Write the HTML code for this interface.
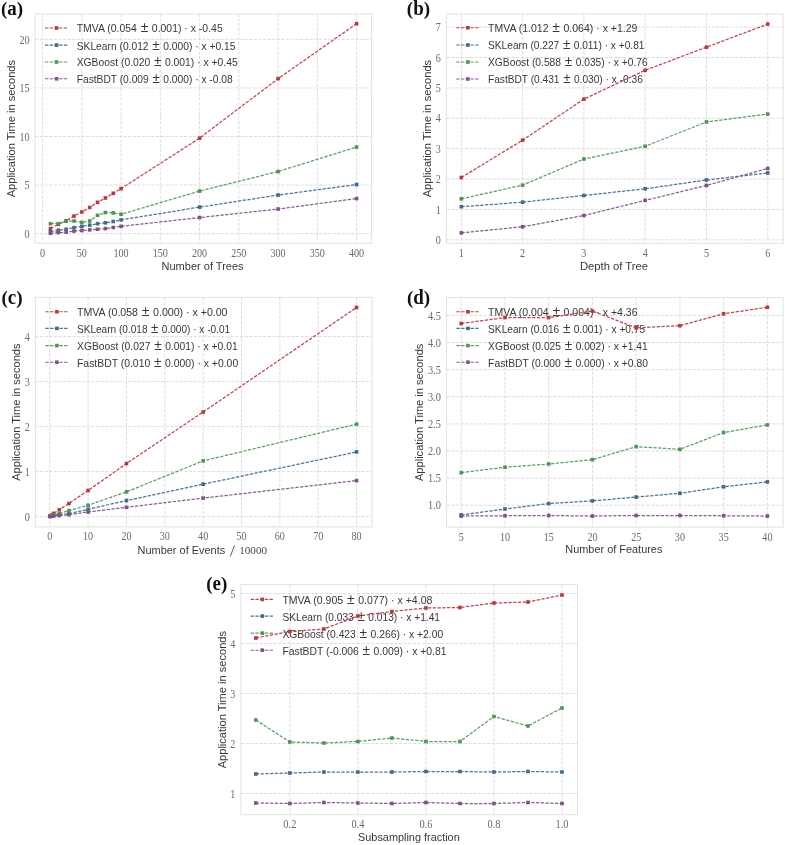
<!DOCTYPE html><html><head><meta charset="utf-8"><style>html,body{margin:0;padding:0;background:#fff;}svg{display:block;filter:blur(0.45px);}.tk{font-family:"Liberation Serif",serif;font-size:11.6px;fill:#6a6a6a;}.lg{font-family:"Liberation Sans",sans-serif;font-size:10.6px;fill:#383838;}.al{font-family:"Liberation Sans",sans-serif;font-size:11px;fill:#383838;}.pl{font-family:"Liberation Serif",serif;font-size:19px;font-weight:bold;fill:#111;}</style></head><body>
<svg width="785" height="845" viewBox="0 0 785 845">
<rect width="785" height="845" fill="#fff"/>
<g stroke="#d9d9d9" stroke-width="0.9" stroke-dasharray="3.2 1.45" fill="none"><line x1="42.6" y1="14" x2="42.6" y2="243.3"/><line x1="81.85" y1="14" x2="81.85" y2="243.3"/><line x1="121.1" y1="14" x2="121.1" y2="243.3"/><line x1="160.35" y1="14" x2="160.35" y2="243.3"/><line x1="199.6" y1="14" x2="199.6" y2="243.3"/><line x1="238.85" y1="14" x2="238.85" y2="243.3"/><line x1="278.1" y1="14" x2="278.1" y2="243.3"/><line x1="317.35" y1="14" x2="317.35" y2="243.3"/><line x1="356.6" y1="14" x2="356.6" y2="243.3"/><line x1="35.1" y1="233.6" x2="371.6" y2="233.6"/><line x1="35.1" y1="185.05" x2="371.6" y2="185.05"/><line x1="35.1" y1="136.5" x2="371.6" y2="136.5"/><line x1="35.1" y1="87.95" x2="371.6" y2="87.95"/><line x1="35.1" y1="39.4" x2="371.6" y2="39.4"/></g>
<rect x="35.1" y="14" width="336.5" height="229.3" fill="none" stroke="#e2e2e2" stroke-width="1"/>
<g class="tk"><text x="42.6" y="256.7" text-anchor="middle" textLength="5.05" lengthAdjust="spacingAndGlyphs">0</text><text x="81.85" y="256.7" text-anchor="middle" textLength="10.1" lengthAdjust="spacingAndGlyphs">50</text><text x="121.1" y="256.7" text-anchor="middle" textLength="15.15" lengthAdjust="spacingAndGlyphs">100</text><text x="160.35" y="256.7" text-anchor="middle" textLength="15.15" lengthAdjust="spacingAndGlyphs">150</text><text x="199.6" y="256.7" text-anchor="middle" textLength="15.15" lengthAdjust="spacingAndGlyphs">200</text><text x="238.85" y="256.7" text-anchor="middle" textLength="15.15" lengthAdjust="spacingAndGlyphs">250</text><text x="278.1" y="256.7" text-anchor="middle" textLength="15.15" lengthAdjust="spacingAndGlyphs">300</text><text x="317.35" y="256.7" text-anchor="middle" textLength="15.15" lengthAdjust="spacingAndGlyphs">350</text><text x="356.6" y="256.7" text-anchor="middle" textLength="15.15" lengthAdjust="spacingAndGlyphs">400</text><text x="29.5" y="237.7" text-anchor="end" textLength="5.05" lengthAdjust="spacingAndGlyphs">0</text><text x="29.5" y="189.15" text-anchor="end" textLength="5.05" lengthAdjust="spacingAndGlyphs">5</text><text x="29.5" y="140.6" text-anchor="end" textLength="10.1" lengthAdjust="spacingAndGlyphs">10</text><text x="29.5" y="92.05" text-anchor="end" textLength="10.1" lengthAdjust="spacingAndGlyphs">15</text><text x="29.5" y="43.5" text-anchor="end" textLength="10.1" lengthAdjust="spacingAndGlyphs">20</text></g>
<text class="al" x="202.55" y="269.6" text-anchor="middle" textLength="82.1" lengthAdjust="spacingAndGlyphs">Number of Trees</text>
<text class="al" x="0" y="0" text-anchor="middle" textLength="137.4" lengthAdjust="spacingAndGlyphs" transform="translate(14.8,128.65) rotate(-90)">Application Time in seconds</text>
<line x1="45" y1="28" x2="67.2" y2="28" stroke="#c0454b" stroke-width="1.1" stroke-dasharray="3.4 1.3"/>
<rect x="54.8" y="26.2" width="3.6" height="3.6" fill="#b8383f"/>
<text class="lg" x="76.7" y="32.4" textLength="146" lengthAdjust="spacingAndGlyphs">TMVA (0.054<tspan dx="3.8" style="font-size:14px">±</tspan><tspan dx="3.6">0.001) · x -0.45</tspan></text>
<line x1="45" y1="45.1" x2="67.2" y2="45.1" stroke="#4a7399" stroke-width="1.1" stroke-dasharray="3.4 1.3"/>
<rect x="54.8" y="43.3" width="3.6" height="3.6" fill="#41698f"/>
<text class="lg" x="76.7" y="49.5" textLength="158.7" lengthAdjust="spacingAndGlyphs">SKLearn (0.012<tspan dx="3.8" style="font-size:14px">±</tspan><tspan dx="3.6">0.000) · x +0.15</tspan></text>
<line x1="45" y1="62" x2="67.2" y2="62" stroke="#58a060" stroke-width="1.1" stroke-dasharray="3.4 1.3"/>
<rect x="54.8" y="60.2" width="3.6" height="3.6" fill="#4f9456"/>
<text class="lg" x="76.7" y="66.4" textLength="161" lengthAdjust="spacingAndGlyphs">XGBoost (0.020<tspan dx="3.8" style="font-size:14px">±</tspan><tspan dx="3.6">0.001) · x +0.45</tspan></text>
<line x1="45" y1="78.8" x2="67.2" y2="78.8" stroke="#8a5c92" stroke-width="1.1" stroke-dasharray="3.4 1.3"/>
<rect x="54.8" y="77" width="3.6" height="3.6" fill="#7f5287"/>
<text class="lg" x="76.7" y="83.2" textLength="156" lengthAdjust="spacingAndGlyphs">FastBDT (0.009<tspan dx="3.8" style="font-size:14px">±</tspan><tspan dx="3.6">0.000) · x -0.08</tspan></text>
<polyline points="50.45,228.55 58.3,224.38 66.15,220.88 74,216.12 81.85,211.95 89.7,207.48 97.55,202.33 105.4,197.96 113.25,193.3 121.1,188.64 199.6,138.15 278.1,78.63 356.6,23.67" fill="none" stroke="#c0454b" stroke-width="1.25" stroke-dasharray="3.3 1.45"/>
<g fill="#b8383f"><rect x="48.65" y="226.75" width="3.6" height="3.6"/><rect x="56.5" y="222.58" width="3.6" height="3.6"/><rect x="64.35" y="219.08" width="3.6" height="3.6"/><rect x="72.2" y="214.32" width="3.6" height="3.6"/><rect x="80.05" y="210.15" width="3.6" height="3.6"/><rect x="87.9" y="205.68" width="3.6" height="3.6"/><rect x="95.75" y="200.53" width="3.6" height="3.6"/><rect x="103.6" y="196.16" width="3.6" height="3.6"/><rect x="111.45" y="191.5" width="3.6" height="3.6"/><rect x="119.3" y="186.84" width="3.6" height="3.6"/><rect x="197.8" y="136.35" width="3.6" height="3.6"/><rect x="276.3" y="76.83" width="3.6" height="3.6"/><rect x="354.8" y="21.87" width="3.6" height="3.6"/></g>
<polyline points="50.45,231.66 58.3,230.2 66.15,229.23 74,227.68 81.85,226.41 89.7,225.15 97.55,223.7 105.4,222.82 113.25,221.46 121.1,219.91 199.6,207.09 278.1,195.05 356.6,184.56" fill="none" stroke="#4a7399" stroke-width="1.25" stroke-dasharray="3.3 1.45"/>
<g fill="#41698f"><rect x="48.65" y="229.86" width="3.6" height="3.6"/><rect x="56.5" y="228.4" width="3.6" height="3.6"/><rect x="64.35" y="227.43" width="3.6" height="3.6"/><rect x="72.2" y="225.88" width="3.6" height="3.6"/><rect x="80.05" y="224.61" width="3.6" height="3.6"/><rect x="87.9" y="223.35" width="3.6" height="3.6"/><rect x="95.75" y="221.9" width="3.6" height="3.6"/><rect x="103.6" y="221.02" width="3.6" height="3.6"/><rect x="111.45" y="219.66" width="3.6" height="3.6"/><rect x="119.3" y="218.11" width="3.6" height="3.6"/><rect x="197.8" y="205.29" width="3.6" height="3.6"/><rect x="276.3" y="193.25" width="3.6" height="3.6"/><rect x="354.8" y="182.76" width="3.6" height="3.6"/></g>
<polyline points="50.45,223.7 58.3,223.7 66.15,221.17 74,220.98 81.85,222.43 89.7,220.98 97.55,215.35 105.4,212.53 113.25,212.92 121.1,214.28 199.6,191.07 278.1,171.55 356.6,147.08" fill="none" stroke="#58a060" stroke-width="1.25" stroke-dasharray="3.3 1.45"/>
<g fill="#4f9456"><rect x="48.65" y="221.9" width="3.6" height="3.6"/><rect x="56.5" y="221.9" width="3.6" height="3.6"/><rect x="64.35" y="219.37" width="3.6" height="3.6"/><rect x="72.2" y="219.18" width="3.6" height="3.6"/><rect x="80.05" y="220.63" width="3.6" height="3.6"/><rect x="87.9" y="219.18" width="3.6" height="3.6"/><rect x="95.75" y="213.55" width="3.6" height="3.6"/><rect x="103.6" y="210.73" width="3.6" height="3.6"/><rect x="111.45" y="211.12" width="3.6" height="3.6"/><rect x="119.3" y="212.48" width="3.6" height="3.6"/><rect x="197.8" y="189.27" width="3.6" height="3.6"/><rect x="276.3" y="169.75" width="3.6" height="3.6"/><rect x="354.8" y="145.28" width="3.6" height="3.6"/></g>
<polyline points="50.45,233.31 58.3,232.63 66.15,232.14 74,231.08 81.85,230.49 89.7,229.81 97.55,229.23 105.4,228.55 113.25,227.48 121.1,226.32 199.6,217.58 278.1,209.03 356.6,198.55" fill="none" stroke="#8a5c92" stroke-width="1.25" stroke-dasharray="3.3 1.45"/>
<g fill="#7f5287"><rect x="48.65" y="231.51" width="3.6" height="3.6"/><rect x="56.5" y="230.83" width="3.6" height="3.6"/><rect x="64.35" y="230.34" width="3.6" height="3.6"/><rect x="72.2" y="229.28" width="3.6" height="3.6"/><rect x="80.05" y="228.69" width="3.6" height="3.6"/><rect x="87.9" y="228.01" width="3.6" height="3.6"/><rect x="95.75" y="227.43" width="3.6" height="3.6"/><rect x="103.6" y="226.75" width="3.6" height="3.6"/><rect x="111.45" y="225.68" width="3.6" height="3.6"/><rect x="119.3" y="224.52" width="3.6" height="3.6"/><rect x="197.8" y="215.78" width="3.6" height="3.6"/><rect x="276.3" y="207.23" width="3.6" height="3.6"/><rect x="354.8" y="196.75" width="3.6" height="3.6"/></g>
<text class="pl" x="1" y="15.25">(</text>
<text class="pl" transform="translate(7.33,15.25) scale(1.0,1.1)">a</text>
<text class="pl" x="16.83" y="15.25">)</text>
<g stroke="#d9d9d9" stroke-width="0.9" stroke-dasharray="3.2 1.45" fill="none"><line x1="461.33" y1="13.95" x2="461.33" y2="243.3"/><line x1="522.61" y1="13.95" x2="522.61" y2="243.3"/><line x1="583.89" y1="13.95" x2="583.89" y2="243.3"/><line x1="645.17" y1="13.95" x2="645.17" y2="243.3"/><line x1="706.45" y1="13.95" x2="706.45" y2="243.3"/><line x1="767.73" y1="13.95" x2="767.73" y2="243.3"/><line x1="446.4" y1="239.85" x2="783.1" y2="239.85"/><line x1="446.4" y1="209.46" x2="783.1" y2="209.46"/><line x1="446.4" y1="179.07" x2="783.1" y2="179.07"/><line x1="446.4" y1="148.68" x2="783.1" y2="148.68"/><line x1="446.4" y1="118.29" x2="783.1" y2="118.29"/><line x1="446.4" y1="87.9" x2="783.1" y2="87.9"/><line x1="446.4" y1="57.51" x2="783.1" y2="57.51"/><line x1="446.4" y1="27.12" x2="783.1" y2="27.12"/></g>
<rect x="446.4" y="13.95" width="336.7" height="229.35" fill="none" stroke="#e2e2e2" stroke-width="1"/>
<g class="tk"><text x="461.33" y="256.7" text-anchor="middle" textLength="5.05" lengthAdjust="spacingAndGlyphs">1</text><text x="522.61" y="256.7" text-anchor="middle" textLength="5.05" lengthAdjust="spacingAndGlyphs">2</text><text x="583.89" y="256.7" text-anchor="middle" textLength="5.05" lengthAdjust="spacingAndGlyphs">3</text><text x="645.17" y="256.7" text-anchor="middle" textLength="5.05" lengthAdjust="spacingAndGlyphs">4</text><text x="706.45" y="256.7" text-anchor="middle" textLength="5.05" lengthAdjust="spacingAndGlyphs">5</text><text x="767.73" y="256.7" text-anchor="middle" textLength="5.05" lengthAdjust="spacingAndGlyphs">6</text><text x="440.8" y="243.95" text-anchor="end" textLength="5.05" lengthAdjust="spacingAndGlyphs">0</text><text x="440.8" y="213.56" text-anchor="end" textLength="5.05" lengthAdjust="spacingAndGlyphs">1</text><text x="440.8" y="183.17" text-anchor="end" textLength="5.05" lengthAdjust="spacingAndGlyphs">2</text><text x="440.8" y="152.78" text-anchor="end" textLength="5.05" lengthAdjust="spacingAndGlyphs">3</text><text x="440.8" y="122.39" text-anchor="end" textLength="5.05" lengthAdjust="spacingAndGlyphs">4</text><text x="440.8" y="92" text-anchor="end" textLength="5.05" lengthAdjust="spacingAndGlyphs">5</text><text x="440.8" y="61.61" text-anchor="end" textLength="5.05" lengthAdjust="spacingAndGlyphs">6</text><text x="440.8" y="31.22" text-anchor="end" textLength="5.05" lengthAdjust="spacingAndGlyphs">7</text></g>
<text class="al" x="613.95" y="270.2" text-anchor="middle" textLength="68.1" lengthAdjust="spacingAndGlyphs">Depth of Tree</text>
<text class="al" x="0" y="0" text-anchor="middle" textLength="137.4" lengthAdjust="spacingAndGlyphs" transform="translate(430.7,128.62) rotate(-90)">Application Time in seconds</text>
<line x1="456.3" y1="27.8" x2="478.5" y2="27.8" stroke="#c0454b" stroke-width="1.1" stroke-dasharray="3.4 1.3"/>
<rect x="466.1" y="26" width="3.6" height="3.6" fill="#b8383f"/>
<text class="lg" x="488" y="32.2" textLength="149.4" lengthAdjust="spacingAndGlyphs">TMVA (1.012<tspan dx="3.8" style="font-size:14px">±</tspan><tspan dx="3.6">0.064) · x +1.29</tspan></text>
<line x1="456.3" y1="45" x2="478.5" y2="45" stroke="#4a7399" stroke-width="1.1" stroke-dasharray="3.4 1.3"/>
<rect x="466.1" y="43.2" width="3.6" height="3.6" fill="#41698f"/>
<text class="lg" x="488" y="49.4" textLength="156.5" lengthAdjust="spacingAndGlyphs">SKLearn (0.227<tspan dx="3.8" style="font-size:14px">±</tspan><tspan dx="3.6">0.011) · x +0.81</tspan></text>
<line x1="456.3" y1="62" x2="478.5" y2="62" stroke="#58a060" stroke-width="1.1" stroke-dasharray="3.4 1.3"/>
<rect x="466.1" y="60.2" width="3.6" height="3.6" fill="#4f9456"/>
<text class="lg" x="488" y="66.4" textLength="159.8" lengthAdjust="spacingAndGlyphs">XGBoost (0.588<tspan dx="3.8" style="font-size:14px">±</tspan><tspan dx="3.6">0.035) · x +0.76</tspan></text>
<line x1="456.3" y1="79" x2="478.5" y2="79" stroke="#8a5c92" stroke-width="1.1" stroke-dasharray="3.4 1.3"/>
<rect x="466.1" y="77.2" width="3.6" height="3.6" fill="#7f5287"/>
<text class="lg" x="488" y="83.4" textLength="154.8" lengthAdjust="spacingAndGlyphs">FastBDT (0.431<tspan dx="3.8" style="font-size:14px">±</tspan><tspan dx="3.6">0.030) · x -0.36</tspan></text>
<polyline points="461.33,177.55 522.61,140.17 583.89,99.14 645.17,70.27 706.45,47.18 767.73,24.08" fill="none" stroke="#c0454b" stroke-width="1.25" stroke-dasharray="3.3 1.45"/>
<g fill="#b8383f"><rect x="459.53" y="175.75" width="3.6" height="3.6"/><rect x="520.81" y="138.37" width="3.6" height="3.6"/><rect x="582.09" y="97.34" width="3.6" height="3.6"/><rect x="643.37" y="68.47" width="3.6" height="3.6"/><rect x="704.65" y="45.38" width="3.6" height="3.6"/><rect x="765.93" y="22.28" width="3.6" height="3.6"/></g>
<polyline points="461.33,206.72 522.61,202.17 583.89,195.48 645.17,188.79 706.45,179.98 767.73,172.99" fill="none" stroke="#4a7399" stroke-width="1.25" stroke-dasharray="3.3 1.45"/>
<g fill="#41698f"><rect x="459.53" y="204.92" width="3.6" height="3.6"/><rect x="520.81" y="200.37" width="3.6" height="3.6"/><rect x="582.09" y="193.68" width="3.6" height="3.6"/><rect x="643.37" y="186.99" width="3.6" height="3.6"/><rect x="704.65" y="178.18" width="3.6" height="3.6"/><rect x="765.93" y="171.19" width="3.6" height="3.6"/></g>
<polyline points="461.33,198.82 522.61,185.15 583.89,159.01 645.17,146.25 706.45,121.94 767.73,114.04" fill="none" stroke="#58a060" stroke-width="1.25" stroke-dasharray="3.3 1.45"/>
<g fill="#4f9456"><rect x="459.53" y="197.02" width="3.6" height="3.6"/><rect x="520.81" y="183.35" width="3.6" height="3.6"/><rect x="582.09" y="157.21" width="3.6" height="3.6"/><rect x="643.37" y="144.45" width="3.6" height="3.6"/><rect x="704.65" y="120.14" width="3.6" height="3.6"/><rect x="765.93" y="112.24" width="3.6" height="3.6"/></g>
<polyline points="461.33,232.86 522.61,226.78 583.89,215.54 645.17,200.34 706.45,185.45 767.73,168.43" fill="none" stroke="#8a5c92" stroke-width="1.25" stroke-dasharray="3.3 1.45"/>
<g fill="#7f5287"><rect x="459.53" y="231.06" width="3.6" height="3.6"/><rect x="520.81" y="224.98" width="3.6" height="3.6"/><rect x="582.09" y="213.74" width="3.6" height="3.6"/><rect x="643.37" y="198.54" width="3.6" height="3.6"/><rect x="704.65" y="183.65" width="3.6" height="3.6"/><rect x="765.93" y="166.63" width="3.6" height="3.6"/></g>
<text class="pl" x="406.8" y="15.25">(</text>
<text class="pl" transform="translate(413.13,15.25) scale(1.0,1.1)">b</text>
<text class="pl" x="423.69" y="15.25">)</text>
<g stroke="#d9d9d9" stroke-width="0.9" stroke-dasharray="3.2 1.45" fill="none"><line x1="49.72" y1="297.4" x2="49.72" y2="526.9"/><line x1="88.08" y1="297.4" x2="88.08" y2="526.9"/><line x1="126.43" y1="297.4" x2="126.43" y2="526.9"/><line x1="164.78" y1="297.4" x2="164.78" y2="526.9"/><line x1="203.14" y1="297.4" x2="203.14" y2="526.9"/><line x1="241.5" y1="297.4" x2="241.5" y2="526.9"/><line x1="279.85" y1="297.4" x2="279.85" y2="526.9"/><line x1="318.21" y1="297.4" x2="318.21" y2="526.9"/><line x1="356.56" y1="297.4" x2="356.56" y2="526.9"/><line x1="35.4" y1="516.6" x2="371.9" y2="516.6"/><line x1="35.4" y1="471.6" x2="371.9" y2="471.6"/><line x1="35.4" y1="426.6" x2="371.9" y2="426.6"/><line x1="35.4" y1="381.6" x2="371.9" y2="381.6"/><line x1="35.4" y1="336.6" x2="371.9" y2="336.6"/></g>
<rect x="35.4" y="297.4" width="336.5" height="229.5" fill="none" stroke="#e2e2e2" stroke-width="1"/>
<g class="tk"><text x="49.72" y="540.3" text-anchor="middle" textLength="5.05" lengthAdjust="spacingAndGlyphs">0</text><text x="88.08" y="540.3" text-anchor="middle" textLength="10.1" lengthAdjust="spacingAndGlyphs">10</text><text x="126.43" y="540.3" text-anchor="middle" textLength="10.1" lengthAdjust="spacingAndGlyphs">20</text><text x="164.78" y="540.3" text-anchor="middle" textLength="10.1" lengthAdjust="spacingAndGlyphs">30</text><text x="203.14" y="540.3" text-anchor="middle" textLength="10.1" lengthAdjust="spacingAndGlyphs">40</text><text x="241.5" y="540.3" text-anchor="middle" textLength="10.1" lengthAdjust="spacingAndGlyphs">50</text><text x="279.85" y="540.3" text-anchor="middle" textLength="10.1" lengthAdjust="spacingAndGlyphs">60</text><text x="318.21" y="540.3" text-anchor="middle" textLength="10.1" lengthAdjust="spacingAndGlyphs">70</text><text x="356.56" y="540.3" text-anchor="middle" textLength="10.1" lengthAdjust="spacingAndGlyphs">80</text><text x="29.8" y="520.7" text-anchor="end" textLength="5.05" lengthAdjust="spacingAndGlyphs">0</text><text x="29.8" y="475.7" text-anchor="end" textLength="5.05" lengthAdjust="spacingAndGlyphs">1</text><text x="29.8" y="430.7" text-anchor="end" textLength="5.05" lengthAdjust="spacingAndGlyphs">2</text><text x="29.8" y="385.7" text-anchor="end" textLength="5.05" lengthAdjust="spacingAndGlyphs">3</text><text x="29.8" y="340.7" text-anchor="end" textLength="5.05" lengthAdjust="spacingAndGlyphs">4</text></g>
<text class="al" x="137.6" y="553.8" textLength="87.6" lengthAdjust="spacingAndGlyphs">Number of Events</text>
<line x1="234.6" y1="545.2" x2="230.3" y2="556.4" stroke="#444" stroke-width="0.85"/>
<text class="tk" x="239.2" y="553.8" textLength="27.9" lengthAdjust="spacingAndGlyphs" style="fill:#4a4a4a;font-size:11.4px">10000</text>
<text class="al" x="0" y="0" text-anchor="middle" textLength="137.4" lengthAdjust="spacingAndGlyphs" transform="translate(20.2,412.15) rotate(-90)">Application Time in seconds</text>
<line x1="45.3" y1="311.8" x2="67.5" y2="311.8" stroke="#c0454b" stroke-width="1.1" stroke-dasharray="3.4 1.3"/>
<rect x="55.1" y="310" width="3.6" height="3.6" fill="#b8383f"/>
<text class="lg" x="77" y="316.2" textLength="150.5" lengthAdjust="spacingAndGlyphs">TMVA (0.058<tspan dx="3.8" style="font-size:14px">±</tspan><tspan dx="3.6">0.000) · x +0.00</tspan></text>
<line x1="45.3" y1="328.4" x2="67.5" y2="328.4" stroke="#4a7399" stroke-width="1.1" stroke-dasharray="3.4 1.3"/>
<rect x="55.1" y="326.6" width="3.6" height="3.6" fill="#41698f"/>
<text class="lg" x="77" y="332.8" textLength="153.1" lengthAdjust="spacingAndGlyphs">SKLearn (0.018<tspan dx="3.8" style="font-size:14px">±</tspan><tspan dx="3.6">0.000) · x -0.01</tspan></text>
<line x1="45.3" y1="345.6" x2="67.5" y2="345.6" stroke="#58a060" stroke-width="1.1" stroke-dasharray="3.4 1.3"/>
<rect x="55.1" y="343.8" width="3.6" height="3.6" fill="#4f9456"/>
<text class="lg" x="77" y="350" textLength="160.7" lengthAdjust="spacingAndGlyphs">XGBoost (0.027<tspan dx="3.8" style="font-size:14px">±</tspan><tspan dx="3.6">0.001) · x +0.01</tspan></text>
<line x1="45.3" y1="362.2" x2="67.5" y2="362.2" stroke="#8a5c92" stroke-width="1.1" stroke-dasharray="3.4 1.3"/>
<rect x="55.1" y="360.4" width="3.6" height="3.6" fill="#7f5287"/>
<text class="lg" x="77" y="366.6" textLength="161.2" lengthAdjust="spacingAndGlyphs">FastBDT (0.010<tspan dx="3.8" style="font-size:14px">±</tspan><tspan dx="3.6">0.000) · x +0.00</tspan></text>
<polyline points="50.1,516.24 51.64,515.16 53.56,513.36 59.31,509.76 68.9,503.5 88.08,490.5 126.43,463.59 203.14,412.02 356.56,307.49" fill="none" stroke="#c0454b" stroke-width="1.25" stroke-dasharray="3.3 1.45"/>
<g fill="#b8383f"><rect x="48.3" y="514.44" width="3.6" height="3.6"/><rect x="49.84" y="513.36" width="3.6" height="3.6"/><rect x="51.76" y="511.56" width="3.6" height="3.6"/><rect x="57.51" y="507.96" width="3.6" height="3.6"/><rect x="67.1" y="501.7" width="3.6" height="3.6"/><rect x="86.28" y="488.7" width="3.6" height="3.6"/><rect x="124.63" y="461.79" width="3.6" height="3.6"/><rect x="201.34" y="410.22" width="3.6" height="3.6"/><rect x="354.76" y="305.69" width="3.6" height="3.6"/></g>
<polyline points="50.1,516.28 51.64,515.97 53.56,515.61 59.31,514.71 68.9,513.81 88.08,509.31 126.43,500.58 203.14,484.2 356.56,451.94" fill="none" stroke="#4a7399" stroke-width="1.25" stroke-dasharray="3.3 1.45"/>
<g fill="#41698f"><rect x="48.3" y="514.49" width="3.6" height="3.6"/><rect x="49.84" y="514.17" width="3.6" height="3.6"/><rect x="51.76" y="513.81" width="3.6" height="3.6"/><rect x="57.51" y="512.91" width="3.6" height="3.6"/><rect x="67.1" y="512.01" width="3.6" height="3.6"/><rect x="86.28" y="507.51" width="3.6" height="3.6"/><rect x="124.63" y="498.78" width="3.6" height="3.6"/><rect x="201.34" y="482.4" width="3.6" height="3.6"/><rect x="354.76" y="450.13" width="3.6" height="3.6"/></g>
<polyline points="50.1,516.06 51.64,515.61 53.56,514.94 59.31,513.59 68.9,510.66 88.08,505.31 126.43,491.85 203.14,460.89 356.56,424.12" fill="none" stroke="#58a060" stroke-width="1.25" stroke-dasharray="3.3 1.45"/>
<g fill="#4f9456"><rect x="48.3" y="514.26" width="3.6" height="3.6"/><rect x="49.84" y="513.81" width="3.6" height="3.6"/><rect x="51.76" y="513.14" width="3.6" height="3.6"/><rect x="57.51" y="511.79" width="3.6" height="3.6"/><rect x="67.1" y="508.86" width="3.6" height="3.6"/><rect x="86.28" y="503.5" width="3.6" height="3.6"/><rect x="124.63" y="490.05" width="3.6" height="3.6"/><rect x="201.34" y="459.09" width="3.6" height="3.6"/><rect x="354.76" y="422.32" width="3.6" height="3.6"/></g>
<polyline points="50.1,516.51 51.64,516.28 53.56,515.97 59.31,515.52 68.9,514.71 88.08,512.01 126.43,507.29 203.14,498.11 356.56,480.6" fill="none" stroke="#8a5c92" stroke-width="1.25" stroke-dasharray="3.3 1.45"/>
<g fill="#7f5287"><rect x="48.3" y="514.71" width="3.6" height="3.6"/><rect x="49.84" y="514.49" width="3.6" height="3.6"/><rect x="51.76" y="514.17" width="3.6" height="3.6"/><rect x="57.51" y="513.72" width="3.6" height="3.6"/><rect x="67.1" y="512.91" width="3.6" height="3.6"/><rect x="86.28" y="510.21" width="3.6" height="3.6"/><rect x="124.63" y="505.49" width="3.6" height="3.6"/><rect x="201.34" y="496.31" width="3.6" height="3.6"/><rect x="354.76" y="478.8" width="3.6" height="3.6"/></g>
<text class="pl" x="1.5" y="304.4">(</text>
<text class="pl" transform="translate(7.83,304.4) scale(1.0,1.1)">c</text>
<text class="pl" x="16.26" y="304.4">)</text>
<g stroke="#d9d9d9" stroke-width="0.9" stroke-dasharray="3.2 1.45" fill="none"><line x1="461.23" y1="297.6" x2="461.23" y2="527.1"/><line x1="504.97" y1="297.6" x2="504.97" y2="527.1"/><line x1="548.7" y1="297.6" x2="548.7" y2="527.1"/><line x1="592.44" y1="297.6" x2="592.44" y2="527.1"/><line x1="636.18" y1="297.6" x2="636.18" y2="527.1"/><line x1="679.92" y1="297.6" x2="679.92" y2="527.1"/><line x1="723.65" y1="297.6" x2="723.65" y2="527.1"/><line x1="767.39" y1="297.6" x2="767.39" y2="527.1"/><line x1="446.5" y1="505.2" x2="783.1" y2="505.2"/><line x1="446.5" y1="478.08" x2="783.1" y2="478.08"/><line x1="446.5" y1="450.97" x2="783.1" y2="450.97"/><line x1="446.5" y1="423.86" x2="783.1" y2="423.86"/><line x1="446.5" y1="396.74" x2="783.1" y2="396.74"/><line x1="446.5" y1="369.62" x2="783.1" y2="369.62"/><line x1="446.5" y1="342.51" x2="783.1" y2="342.51"/><line x1="446.5" y1="315.39" x2="783.1" y2="315.39"/></g>
<rect x="446.5" y="297.6" width="336.6" height="229.5" fill="none" stroke="#e2e2e2" stroke-width="1"/>
<g class="tk"><text x="461.23" y="540.5" text-anchor="middle" textLength="5.05" lengthAdjust="spacingAndGlyphs">5</text><text x="504.97" y="540.5" text-anchor="middle" textLength="10.1" lengthAdjust="spacingAndGlyphs">10</text><text x="548.7" y="540.5" text-anchor="middle" textLength="10.1" lengthAdjust="spacingAndGlyphs">15</text><text x="592.44" y="540.5" text-anchor="middle" textLength="10.1" lengthAdjust="spacingAndGlyphs">20</text><text x="636.18" y="540.5" text-anchor="middle" textLength="10.1" lengthAdjust="spacingAndGlyphs">25</text><text x="679.92" y="540.5" text-anchor="middle" textLength="10.1" lengthAdjust="spacingAndGlyphs">30</text><text x="723.65" y="540.5" text-anchor="middle" textLength="10.1" lengthAdjust="spacingAndGlyphs">35</text><text x="767.39" y="540.5" text-anchor="middle" textLength="10.1" lengthAdjust="spacingAndGlyphs">40</text><text x="440.9" y="509.3" text-anchor="end" textLength="13" lengthAdjust="spacingAndGlyphs">1.0</text><text x="440.9" y="482.19" text-anchor="end" textLength="13" lengthAdjust="spacingAndGlyphs">1.5</text><text x="440.9" y="455.07" text-anchor="end" textLength="13" lengthAdjust="spacingAndGlyphs">2.0</text><text x="440.9" y="427.96" text-anchor="end" textLength="13" lengthAdjust="spacingAndGlyphs">2.5</text><text x="440.9" y="400.84" text-anchor="end" textLength="13" lengthAdjust="spacingAndGlyphs">3.0</text><text x="440.9" y="373.73" text-anchor="end" textLength="13" lengthAdjust="spacingAndGlyphs">3.5</text><text x="440.9" y="346.61" text-anchor="end" textLength="13" lengthAdjust="spacingAndGlyphs">4.0</text><text x="440.9" y="319.5" text-anchor="end" textLength="13" lengthAdjust="spacingAndGlyphs">4.5</text></g>
<text class="al" x="613.85" y="553.1" text-anchor="middle" textLength="97.1" lengthAdjust="spacingAndGlyphs">Number of Features</text>
<text class="al" x="0" y="0" text-anchor="middle" textLength="137.4" lengthAdjust="spacingAndGlyphs" transform="translate(422.6,412.35) rotate(-90)">Application Time in seconds</text>
<line x1="456.4" y1="311.8" x2="478.6" y2="311.8" stroke="#c0454b" stroke-width="1.1" stroke-dasharray="3.4 1.3"/>
<rect x="466.2" y="310" width="3.6" height="3.6" fill="#b8383f"/>
<text class="lg" x="488.1" y="316.2" textLength="149.4" lengthAdjust="spacingAndGlyphs">TMVA (0.004<tspan dx="3.8" style="font-size:14px">±</tspan><tspan dx="3.6">0.004) · x +4.36</tspan></text>
<line x1="456.4" y1="328.4" x2="478.6" y2="328.4" stroke="#4a7399" stroke-width="1.1" stroke-dasharray="3.4 1.3"/>
<rect x="466.2" y="326.6" width="3.6" height="3.6" fill="#41698f"/>
<text class="lg" x="488.1" y="332.8" textLength="157" lengthAdjust="spacingAndGlyphs">SKLearn (0.016<tspan dx="3.8" style="font-size:14px">±</tspan><tspan dx="3.6">0.001) · x +0.75</tspan></text>
<line x1="456.4" y1="345.6" x2="478.6" y2="345.6" stroke="#58a060" stroke-width="1.1" stroke-dasharray="3.4 1.3"/>
<rect x="466.2" y="343.8" width="3.6" height="3.6" fill="#4f9456"/>
<text class="lg" x="488.1" y="350" textLength="159.6" lengthAdjust="spacingAndGlyphs">XGBoost (0.025<tspan dx="3.8" style="font-size:14px">±</tspan><tspan dx="3.6">0.002) · x +1.41</tspan></text>
<line x1="456.4" y1="362.2" x2="478.6" y2="362.2" stroke="#8a5c92" stroke-width="1.1" stroke-dasharray="3.4 1.3"/>
<rect x="466.2" y="360.4" width="3.6" height="3.6" fill="#7f5287"/>
<text class="lg" x="488.1" y="366.6" textLength="159.8" lengthAdjust="spacingAndGlyphs">FastBDT (0.000<tspan dx="3.8" style="font-size:14px">±</tspan><tspan dx="3.6">0.000) · x +0.80</tspan></text>
<polyline points="461.23,323.53 504.97,317.56 548.7,317.56 592.44,311.06 636.18,327.87 679.92,325.7 723.65,313.77 767.39,307.26" fill="none" stroke="#c0454b" stroke-width="1.25" stroke-dasharray="3.3 1.45"/>
<g fill="#b8383f"><rect x="459.43" y="321.73" width="3.6" height="3.6"/><rect x="503.17" y="315.76" width="3.6" height="3.6"/><rect x="546.9" y="315.76" width="3.6" height="3.6"/><rect x="590.64" y="309.26" width="3.6" height="3.6"/><rect x="634.38" y="326.07" width="3.6" height="3.6"/><rect x="678.12" y="323.9" width="3.6" height="3.6"/><rect x="721.85" y="311.97" width="3.6" height="3.6"/><rect x="765.59" y="305.46" width="3.6" height="3.6"/></g>
<polyline points="461.23,514.96 504.97,509 548.7,503.57 592.44,500.86 636.18,497.07 679.92,493.27 723.65,486.76 767.39,481.88" fill="none" stroke="#4a7399" stroke-width="1.25" stroke-dasharray="3.3 1.45"/>
<g fill="#41698f"><rect x="459.43" y="513.16" width="3.6" height="3.6"/><rect x="503.17" y="507.2" width="3.6" height="3.6"/><rect x="546.9" y="501.77" width="3.6" height="3.6"/><rect x="590.64" y="499.06" width="3.6" height="3.6"/><rect x="634.38" y="495.27" width="3.6" height="3.6"/><rect x="678.12" y="491.47" width="3.6" height="3.6"/><rect x="721.85" y="484.96" width="3.6" height="3.6"/><rect x="765.59" y="480.08" width="3.6" height="3.6"/></g>
<polyline points="461.23,472.66 504.97,467.24 548.7,463.99 592.44,459.65 636.18,446.63 679.92,449.34 723.65,432.53 767.39,424.94" fill="none" stroke="#58a060" stroke-width="1.25" stroke-dasharray="3.3 1.45"/>
<g fill="#4f9456"><rect x="459.43" y="470.86" width="3.6" height="3.6"/><rect x="503.17" y="465.44" width="3.6" height="3.6"/><rect x="546.9" y="462.19" width="3.6" height="3.6"/><rect x="590.64" y="457.85" width="3.6" height="3.6"/><rect x="634.38" y="444.83" width="3.6" height="3.6"/><rect x="678.12" y="447.54" width="3.6" height="3.6"/><rect x="721.85" y="430.73" width="3.6" height="3.6"/><rect x="765.59" y="423.14" width="3.6" height="3.6"/></g>
<polyline points="461.23,516.05 504.97,515.77 548.7,515.5 592.44,516.05 636.18,515.5 679.92,515.5 723.65,515.77 767.39,516.05" fill="none" stroke="#8a5c92" stroke-width="1.25" stroke-dasharray="3.3 1.45"/>
<g fill="#7f5287"><rect x="459.43" y="514.25" width="3.6" height="3.6"/><rect x="503.17" y="513.97" width="3.6" height="3.6"/><rect x="546.9" y="513.7" width="3.6" height="3.6"/><rect x="590.64" y="514.25" width="3.6" height="3.6"/><rect x="634.38" y="513.7" width="3.6" height="3.6"/><rect x="678.12" y="513.7" width="3.6" height="3.6"/><rect x="721.85" y="513.97" width="3.6" height="3.6"/><rect x="765.59" y="514.25" width="3.6" height="3.6"/></g>
<text class="pl" x="406.9" y="304.4">(</text>
<text class="pl" transform="translate(413.23,304.4) scale(1.0,1.1)">d</text>
<text class="pl" x="423.79" y="304.4">)</text>
<g stroke="#d9d9d9" stroke-width="0.9" stroke-dasharray="3.2 1.45" fill="none"><line x1="289.86" y1="584.6" x2="289.86" y2="814.7"/><line x1="357.89" y1="584.6" x2="357.89" y2="814.7"/><line x1="425.93" y1="584.6" x2="425.93" y2="814.7"/><line x1="493.96" y1="584.6" x2="493.96" y2="814.7"/><line x1="561.99" y1="584.6" x2="561.99" y2="814.7"/><line x1="240.8" y1="793.5" x2="577.5" y2="793.5"/><line x1="240.8" y1="743.5" x2="577.5" y2="743.5"/><line x1="240.8" y1="693.5" x2="577.5" y2="693.5"/><line x1="240.8" y1="643.5" x2="577.5" y2="643.5"/><line x1="240.8" y1="593.5" x2="577.5" y2="593.5"/></g>
<rect x="240.8" y="584.6" width="336.7" height="230.1" fill="none" stroke="#e2e2e2" stroke-width="1"/>
<g class="tk"><text x="289.86" y="828.1" text-anchor="middle" textLength="13" lengthAdjust="spacingAndGlyphs">0.2</text><text x="357.89" y="828.1" text-anchor="middle" textLength="13" lengthAdjust="spacingAndGlyphs">0.4</text><text x="425.93" y="828.1" text-anchor="middle" textLength="13" lengthAdjust="spacingAndGlyphs">0.6</text><text x="493.96" y="828.1" text-anchor="middle" textLength="13" lengthAdjust="spacingAndGlyphs">0.8</text><text x="561.99" y="828.1" text-anchor="middle" textLength="13" lengthAdjust="spacingAndGlyphs">1.0</text><text x="235.2" y="797.6" text-anchor="end" textLength="5.05" lengthAdjust="spacingAndGlyphs">1</text><text x="235.2" y="747.6" text-anchor="end" textLength="5.05" lengthAdjust="spacingAndGlyphs">2</text><text x="235.2" y="697.6" text-anchor="end" textLength="5.05" lengthAdjust="spacingAndGlyphs">3</text><text x="235.2" y="647.6" text-anchor="end" textLength="5.05" lengthAdjust="spacingAndGlyphs">4</text><text x="235.2" y="597.6" text-anchor="end" textLength="5.05" lengthAdjust="spacingAndGlyphs">5</text></g>
<text class="al" x="408.85" y="840.6" text-anchor="middle" textLength="101.7" lengthAdjust="spacingAndGlyphs">Subsampling fraction</text>
<text class="al" x="0" y="0" text-anchor="middle" textLength="137.4" lengthAdjust="spacingAndGlyphs" transform="translate(225.7,699.65) rotate(-90)">Application Time in seconds</text>
<line x1="250.7" y1="599.4" x2="272.9" y2="599.4" stroke="#c0454b" stroke-width="1.1" stroke-dasharray="3.4 1.3"/>
<rect x="260.5" y="597.6" width="3.6" height="3.6" fill="#b8383f"/>
<text class="lg" x="282.4" y="603.8" textLength="150" lengthAdjust="spacingAndGlyphs">TMVA (0.905<tspan dx="3.8" style="font-size:14px">±</tspan><tspan dx="3.6">0.077) · x +4.08</tspan></text>
<line x1="250.7" y1="616.1" x2="272.9" y2="616.1" stroke="#4a7399" stroke-width="1.1" stroke-dasharray="3.4 1.3"/>
<rect x="260.5" y="614.3" width="3.6" height="3.6" fill="#41698f"/>
<text class="lg" x="282.4" y="620.5" textLength="157.6" lengthAdjust="spacingAndGlyphs">SKLearn (0.033<tspan dx="3.8" style="font-size:14px">±</tspan><tspan dx="3.6">0.013) · x +1.41</tspan></text>
<line x1="250.7" y1="633.1" x2="272.9" y2="633.1" stroke="#58a060" stroke-width="1.1" stroke-dasharray="3.4 1.3"/>
<rect x="260.5" y="631.3" width="3.6" height="3.6" fill="#4f9456"/>
<text class="lg" x="282.4" y="637.5" textLength="160.8" lengthAdjust="spacingAndGlyphs">XGBoost (0.423<tspan dx="3.8" style="font-size:14px">±</tspan><tspan dx="3.6">0.266) · x +2.00</tspan></text>
<line x1="250.7" y1="650.2" x2="272.9" y2="650.2" stroke="#8a5c92" stroke-width="1.1" stroke-dasharray="3.4 1.3"/>
<rect x="260.5" y="648.4" width="3.6" height="3.6" fill="#7f5287"/>
<text class="lg" x="282.4" y="654.6" textLength="164.1" lengthAdjust="spacingAndGlyphs">FastBDT (-0.006<tspan dx="3.8" style="font-size:14px">±</tspan><tspan dx="3.6">0.009) · x +0.81</tspan></text>
<polyline points="255.84,638 289.86,631.5 323.87,629 357.89,616 391.91,611.5 425.93,608 459.94,607.5 493.96,603 527.98,602 561.99,595" fill="none" stroke="#c0454b" stroke-width="1.25" stroke-dasharray="3.3 1.45"/>
<g fill="#b8383f"><rect x="254.04" y="636.2" width="3.6" height="3.6"/><rect x="288.06" y="629.7" width="3.6" height="3.6"/><rect x="322.07" y="627.2" width="3.6" height="3.6"/><rect x="356.09" y="614.2" width="3.6" height="3.6"/><rect x="390.11" y="609.7" width="3.6" height="3.6"/><rect x="424.13" y="606.2" width="3.6" height="3.6"/><rect x="458.14" y="605.7" width="3.6" height="3.6"/><rect x="492.16" y="601.2" width="3.6" height="3.6"/><rect x="526.18" y="600.2" width="3.6" height="3.6"/><rect x="560.19" y="593.2" width="3.6" height="3.6"/></g>
<polyline points="255.84,774 289.86,773 323.87,772 357.89,772 391.91,772 425.93,771.5 459.94,771.5 493.96,772 527.98,771.5 561.99,772" fill="none" stroke="#4a7399" stroke-width="1.25" stroke-dasharray="3.3 1.45"/>
<g fill="#41698f"><rect x="254.04" y="772.2" width="3.6" height="3.6"/><rect x="288.06" y="771.2" width="3.6" height="3.6"/><rect x="322.07" y="770.2" width="3.6" height="3.6"/><rect x="356.09" y="770.2" width="3.6" height="3.6"/><rect x="390.11" y="770.2" width="3.6" height="3.6"/><rect x="424.13" y="769.7" width="3.6" height="3.6"/><rect x="458.14" y="769.7" width="3.6" height="3.6"/><rect x="492.16" y="770.2" width="3.6" height="3.6"/><rect x="526.18" y="769.7" width="3.6" height="3.6"/><rect x="560.19" y="770.2" width="3.6" height="3.6"/></g>
<polyline points="255.84,720 289.86,742 323.87,743 357.89,741.5 391.91,738 425.93,741.5 459.94,741.5 493.96,716.5 527.98,726 561.99,708" fill="none" stroke="#58a060" stroke-width="1.25" stroke-dasharray="3.3 1.45"/>
<g fill="#4f9456"><rect x="254.04" y="718.2" width="3.6" height="3.6"/><rect x="288.06" y="740.2" width="3.6" height="3.6"/><rect x="322.07" y="741.2" width="3.6" height="3.6"/><rect x="356.09" y="739.7" width="3.6" height="3.6"/><rect x="390.11" y="736.2" width="3.6" height="3.6"/><rect x="424.13" y="739.7" width="3.6" height="3.6"/><rect x="458.14" y="739.7" width="3.6" height="3.6"/><rect x="492.16" y="714.7" width="3.6" height="3.6"/><rect x="526.18" y="724.2" width="3.6" height="3.6"/><rect x="560.19" y="706.2" width="3.6" height="3.6"/></g>
<polyline points="255.84,803 289.86,803.5 323.87,802.5 357.89,803 391.91,803.5 425.93,802.5 459.94,803.5 493.96,803.5 527.98,802.5 561.99,803.5" fill="none" stroke="#8a5c92" stroke-width="1.25" stroke-dasharray="3.3 1.45"/>
<g fill="#7f5287"><rect x="254.04" y="801.2" width="3.6" height="3.6"/><rect x="288.06" y="801.7" width="3.6" height="3.6"/><rect x="322.07" y="800.7" width="3.6" height="3.6"/><rect x="356.09" y="801.2" width="3.6" height="3.6"/><rect x="390.11" y="801.7" width="3.6" height="3.6"/><rect x="424.13" y="800.7" width="3.6" height="3.6"/><rect x="458.14" y="801.7" width="3.6" height="3.6"/><rect x="492.16" y="801.7" width="3.6" height="3.6"/><rect x="526.18" y="800.7" width="3.6" height="3.6"/><rect x="560.19" y="801.7" width="3.6" height="3.6"/></g>
<text class="pl" x="206.2" y="590">(</text>
<text class="pl" transform="translate(212.53,590) scale(1.0,1.1)">e</text>
<text class="pl" x="220.96" y="590">)</text>
</svg></body></html>
